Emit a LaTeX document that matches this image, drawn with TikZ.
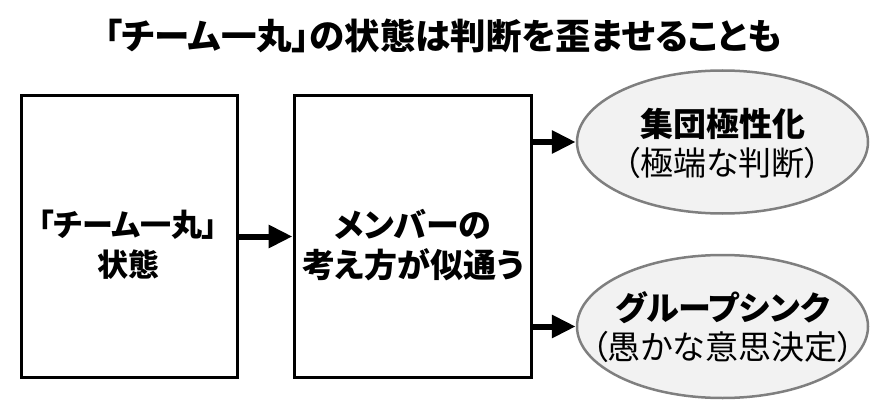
\documentclass[tikz,border=0pt]{standalone}
\usepackage{fontspec}
\setmainfont{Noto Sans CJK JP}[RawFeature=+palt]
\usetikzlibrary{arrows.meta,shapes.geometric}
\definecolor{efill}{HTML}{F2F2F2}
\definecolor{edraw}{HTML}{7F7F7F}
\tikzset{
  boxnode/.style={draw=black,line width=3pt,fill=white,minimum width=216pt,minimum height=281pt,inner sep=0pt},
  boxtext/.style={align=center,inner sep=0pt},
  ellnode/.style={ellipse,draw=edraw,line width=2.5pt,fill=efill,minimum width=291pt,minimum height=143pt,inner sep=0pt},
  elltext/.style={align=center,inner sep=0pt,font=\fontsize{33}{39}\selectfont},
  fatarrow/.style={line width=6pt,-{Triangle[length=24pt,width=22pt]}},
  titletext/.style={font=\fontsize{35.5}{40}\selectfont\bfseries}
}
\begin{document}
\begin{tikzpicture}[x=1pt,y=-1pt]
\useasboundingbox (0,0) rectangle (886,401);
\node[titletext] (title) at (443,36) {「チーム一丸」の状態は判断を歪ませることも};
\node[boxnode] (b1) at (129,236.5) {};
\node[boxnode,minimum width=237pt] (b2) at (412.5,236.5) {};
\node[boxtext,font=\fontsize{31}{40}\selectfont\bfseries] (t1) at (128,245) {「チーム一丸」\\状態};
\node[boxtext,font=\fontsize{33}{40}\selectfont\bfseries] (t2) at (413,245) {メンバーの\\考え方が似通う};
\node[ellnode] (e1) at (722.5,142) {};
\node[ellnode] (e2) at (722.5,326.5) {};
\node[elltext] (t3) at (722.5,143) {{\bfseries 集団極性化}\\（極端な判断）};
\node[elltext] (t4) at (722.5,327) {{\bfseries グループシンク}\\（愚かな意思決定）};
\draw[fatarrow] (b1.east) -- (b2.west);
\draw[fatarrow] (b2.east |- e1.west) -- (e1.west);
\draw[fatarrow] (b2.east |- e2.west) -- (e2.west);
\end{tikzpicture}
\end{document}
